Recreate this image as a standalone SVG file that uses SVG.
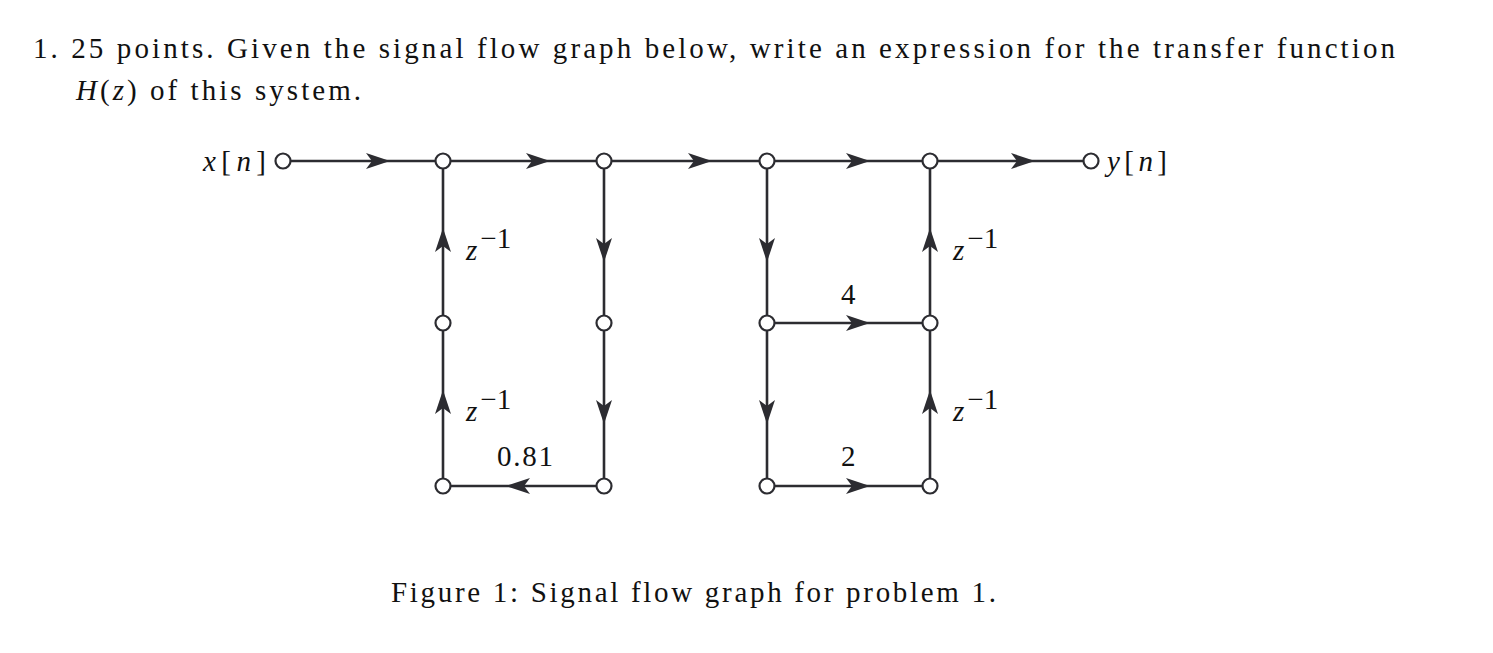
<svg xmlns="http://www.w3.org/2000/svg" width="1493" height="653" viewBox="0 0 1493 653">
<style>
.t{font-family:"Liberation Serif",serif;font-size:29px;fill:#111}
.m{font-family:"Liberation Serif",serif;font-style:italic;font-size:29px;fill:#111}
.e{stroke:#2c2c31;stroke-width:2.6;fill:none}
.n{fill:#fff;stroke:#2c2c31;stroke-width:2.2}
.a{fill:#2c2c31}
</style>
<defs>
<path id="ah" d="M12,0 L-12,-8 L-6,0 L-12,8 Z"/>
</defs>
<rect width="1493" height="653" fill="#fff"/>
<text class="t" x="33" y="58" textLength="1362" lengthAdjust="spacing">1. 25 points. Given the signal flow graph below, write an expression for the transfer function</text>
<text class="t" x="76" y="100" textLength="285" lengthAdjust="spacing"><tspan font-style="italic">H</tspan>(<tspan font-style="italic">z</tspan>) of this system.</text>
<g id="connectors">
<path class="e" d="M283,161 H1091 M443,161 V486 H604 V161 M767,161 V486 H930 V161 M767,323 H930"/>
<g class="a">
<use href="#ah" transform="translate(378,161)"/>
<use href="#ah" transform="translate(538,161)"/>
<use href="#ah" transform="translate(700,161)"/>
<use href="#ah" transform="translate(858,161)"/>
<use href="#ah" transform="translate(1023,161)"/>
<use href="#ah" transform="translate(443,240) rotate(-90)"/>
<use href="#ah" transform="translate(443,402) rotate(-90)"/>
<use href="#ah" transform="translate(604,250) rotate(90)"/>
<use href="#ah" transform="translate(604,412) rotate(90)"/>
<use href="#ah" transform="translate(767,250) rotate(90)"/>
<use href="#ah" transform="translate(767,412) rotate(90)"/>
<use href="#ah" transform="translate(930,240) rotate(-90)"/>
<use href="#ah" transform="translate(930,402) rotate(-90)"/>
<use href="#ah" transform="translate(858,323)"/>
<use href="#ah" transform="translate(858,486)"/>
<use href="#ah" transform="translate(518,486) rotate(180)"/>
</g>
</g>
<g id="nodes">
<g id="xin"><circle class="n" cx="283" cy="161" r="7.5"/></g>
<g id="n1"><circle class="n" cx="443" cy="161" r="7.5"/></g>
<g id="n2"><circle class="n" cx="604" cy="161" r="7.5"/></g>
<g id="n3"><circle class="n" cx="767" cy="161" r="7.5"/></g>
<g id="n4"><circle class="n" cx="930" cy="161" r="7.5"/></g>
<g id="yout"><circle class="n" cx="1091" cy="161" r="7.5"/></g>
<g id="n5"><circle class="n" cx="443" cy="323" r="7.5"/></g>
<g id="n6"><circle class="n" cx="604" cy="323" r="7.5"/></g>
<g id="n7"><circle class="n" cx="767" cy="323" r="7.5"/></g>
<g id="n8"><circle class="n" cx="930" cy="323" r="7.5"/></g>
<g id="n9"><circle class="n" cx="443" cy="486" r="7.5"/></g>
<g id="n10"><circle class="n" cx="604" cy="486" r="7.5"/></g>
<g id="n11"><circle class="n" cx="767" cy="486" r="7.5"/></g>
<g id="n12"><circle class="n" cx="930" cy="486" r="7.5"/></g>
</g>
<g id="labels">
<text class="m" x="203" y="171" textLength="63" lengthAdjust="spacing"><tspan>x</tspan><tspan font-style="normal">[</tspan>n<tspan font-style="normal">]</tspan></text>
<text class="m" x="1107" y="171" textLength="60" lengthAdjust="spacing"><tspan>y</tspan><tspan font-style="normal">[</tspan>n<tspan font-style="normal">]</tspan></text>
<text class="m" x="466" y="260">z<tspan class="t" font-size="20" dx="3" dy="-12" font-style="normal">−1</tspan></text>
<text class="m" x="466" y="421">z<tspan class="t" font-size="20" dx="3" dy="-12" font-style="normal">−1</tspan></text>
<text class="m" x="953" y="260">z<tspan class="t" font-size="20" dx="3" dy="-12" font-style="normal">−1</tspan></text>
<text class="m" x="953" y="421">z<tspan class="t" font-size="20" dx="3" dy="-12" font-style="normal">−1</tspan></text>
<text class="t" x="497" y="466" textLength="56">0.81</text>
<text class="t" x="841" y="304">4</text>
<text class="t" x="841" y="466">2</text>
<text class="t" x="391" y="602" textLength="605" lengthAdjust="spacing">Figure 1: Signal flow graph for problem 1.</text>
</g>
</svg>
